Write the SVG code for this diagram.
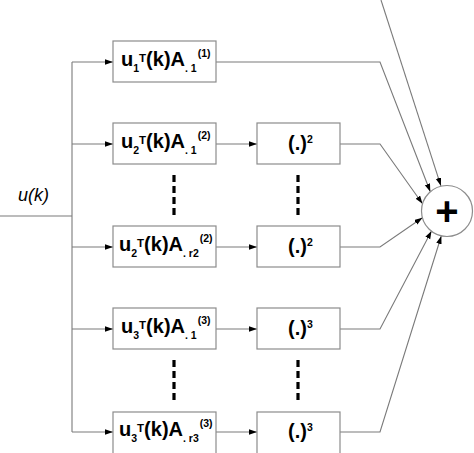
<svg xmlns="http://www.w3.org/2000/svg" width="474" height="453" viewBox="0 0 474 453">
<defs>
<marker id="ah" markerWidth="9" markerHeight="6" refX="8" refY="2.75" orient="auto" markerUnits="userSpaceOnUse">
<path d="M0,0 L8,2.75 L0,5.5 z" fill="#000"/>
</marker>
<style>
.box{fill:#fff;stroke:#8c8c8c;stroke-width:1.2}
.ln{fill:none;stroke:#7a7a7a;stroke-width:1.1}
.arr{marker-end:url(#ah)}
.dots{fill:none;stroke:#000;stroke-width:3.2;stroke-dasharray:7 4}
.lbl{font-family:"Liberation Sans",Arial,sans-serif;font-weight:bold;font-size:20px;fill:#000}
.s{font-size:10.5px}
.t{font-size:11.5px}
.in{font-family:"Liberation Sans",Arial,sans-serif;font-style:italic;font-size:18px;fill:#000}
.plus{font-family:"Liberation Sans",Arial,sans-serif;font-weight:bold;font-size:40px;fill:#000}
</style>
</defs>
<g id="connectors">
<line class="ln" x1="0" y1="216" x2="72" y2="216"/>
<line class="ln" x1="72" y1="62" x2="72" y2="432"/>
<line class="ln arr" x1="72" y1="62" x2="113" y2="62"/>
<line class="ln arr" x1="72" y1="144" x2="113" y2="144"/>
<line class="ln arr" x1="72" y1="247" x2="113" y2="247"/>
<line class="ln arr" x1="72" y1="329" x2="113" y2="329"/>
<line class="ln arr" x1="72" y1="432" x2="113" y2="432"/>
<line class="ln arr" x1="216" y1="144" x2="257" y2="144"/>
<line class="ln arr" x1="216" y1="247" x2="257" y2="247"/>
<line class="ln arr" x1="216" y1="329" x2="257" y2="329"/>
<line class="ln arr" x1="216" y1="432" x2="257" y2="432"/>
<polyline class="ln arr" points="216,62 380,62 430.3,191.7"/>
<polyline class="ln arr" points="340,144 380,144 422.5,203.7"/>
<polyline class="ln arr" points="340,247 380,247 422.4,217.8"/>
<polyline class="ln arr" points="340,329 380,329 431.5,231"/>
<polyline class="ln arr" points="340,432 380,432 441.3,236"/>
<line class="ln arr" x1="381" y1="0" x2="440.9" y2="185.8"/>
</g>
<g id="ellipses">
<line class="dots" x1="174" y1="175" x2="174" y2="215"/>
<line class="dots" x1="298" y1="175" x2="298" y2="215"/>
<line class="dots" x1="174" y1="360" x2="174" y2="400"/>
<line class="dots" x1="298" y1="360" x2="298" y2="400"/>
</g>
<g id="input">
<text class="in" x="18" y="201">u(k)</text>
</g>
<g id="n1">
<rect class="box" x="113" y="41" width="103" height="41"/>
<text class="lbl" x="121" y="66">u<tspan class="s" dy="6">1</tspan><tspan class="t" dy="-10">T</tspan><tspan dy="4">(k)A</tspan><tspan class="s" dy="6">. 1</tspan><tspan class="s" dx="1" dy="-15">(1)</tspan></text>
</g>
<g id="n2">
<rect class="box" x="113" y="123" width="103" height="41"/>
<text class="lbl" x="121" y="148">u<tspan class="s" dy="6">2</tspan><tspan class="t" dy="-10">T</tspan><tspan dy="4">(k)A</tspan><tspan class="s" dy="6">. 1</tspan><tspan class="s" dx="1" dy="-15">(2)</tspan></text>
</g>
<g id="n3">
<rect class="box" x="113" y="226" width="103" height="41"/>
<text class="lbl" x="119" y="251">u<tspan class="s" dy="6">2</tspan><tspan class="t" dy="-10">T</tspan><tspan dy="4">(k)A</tspan><tspan class="s" dy="6">. r2</tspan><tspan class="s" dx="1" dy="-15">(2)</tspan></text>
</g>
<g id="n4">
<rect class="box" x="113" y="308" width="103" height="41"/>
<text class="lbl" x="121" y="333">u<tspan class="s" dy="6">3</tspan><tspan class="t" dy="-10">T</tspan><tspan dy="4">(k)A</tspan><tspan class="s" dy="6">. 1</tspan><tspan class="s" dx="1" dy="-15">(3)</tspan></text>
</g>
<g id="n5">
<rect class="box" x="113" y="412" width="103" height="42"/>
<text class="lbl" x="119" y="436">u<tspan class="s" dy="6">3</tspan><tspan class="t" dy="-10">T</tspan><tspan dy="4">(k)A</tspan><tspan class="s" dy="6">. r3</tspan><tspan class="s" dx="1" dy="-15">(3)</tspan></text>
</g>
<g id="p2">
<rect class="box" x="257" y="123" width="83" height="41"/>
<text class="lbl" x="288" y="150">(.)<tspan class="s" dy="-7">2</tspan></text>
</g>
<g id="p3">
<rect class="box" x="257" y="226" width="83" height="41"/>
<text class="lbl" x="288" y="253">(.)<tspan class="s" dy="-7">2</tspan></text>
</g>
<g id="p4">
<rect class="box" x="257" y="308" width="83" height="41"/>
<text class="lbl" x="288" y="335">(.)<tspan class="s" dy="-7">3</tspan></text>
</g>
<g id="p5">
<rect class="box" x="257" y="412" width="83" height="42"/>
<text class="lbl" x="288" y="438">(.)<tspan class="s" dy="-7">3</tspan></text>
</g>
<g id="sum">
<circle cx="447" cy="211" r="25.5" fill="#fff" stroke="#8c8c8c" stroke-width="1.2"/>
<text class="plus" x="447" y="225" text-anchor="middle">+</text>
</g>
</svg>
